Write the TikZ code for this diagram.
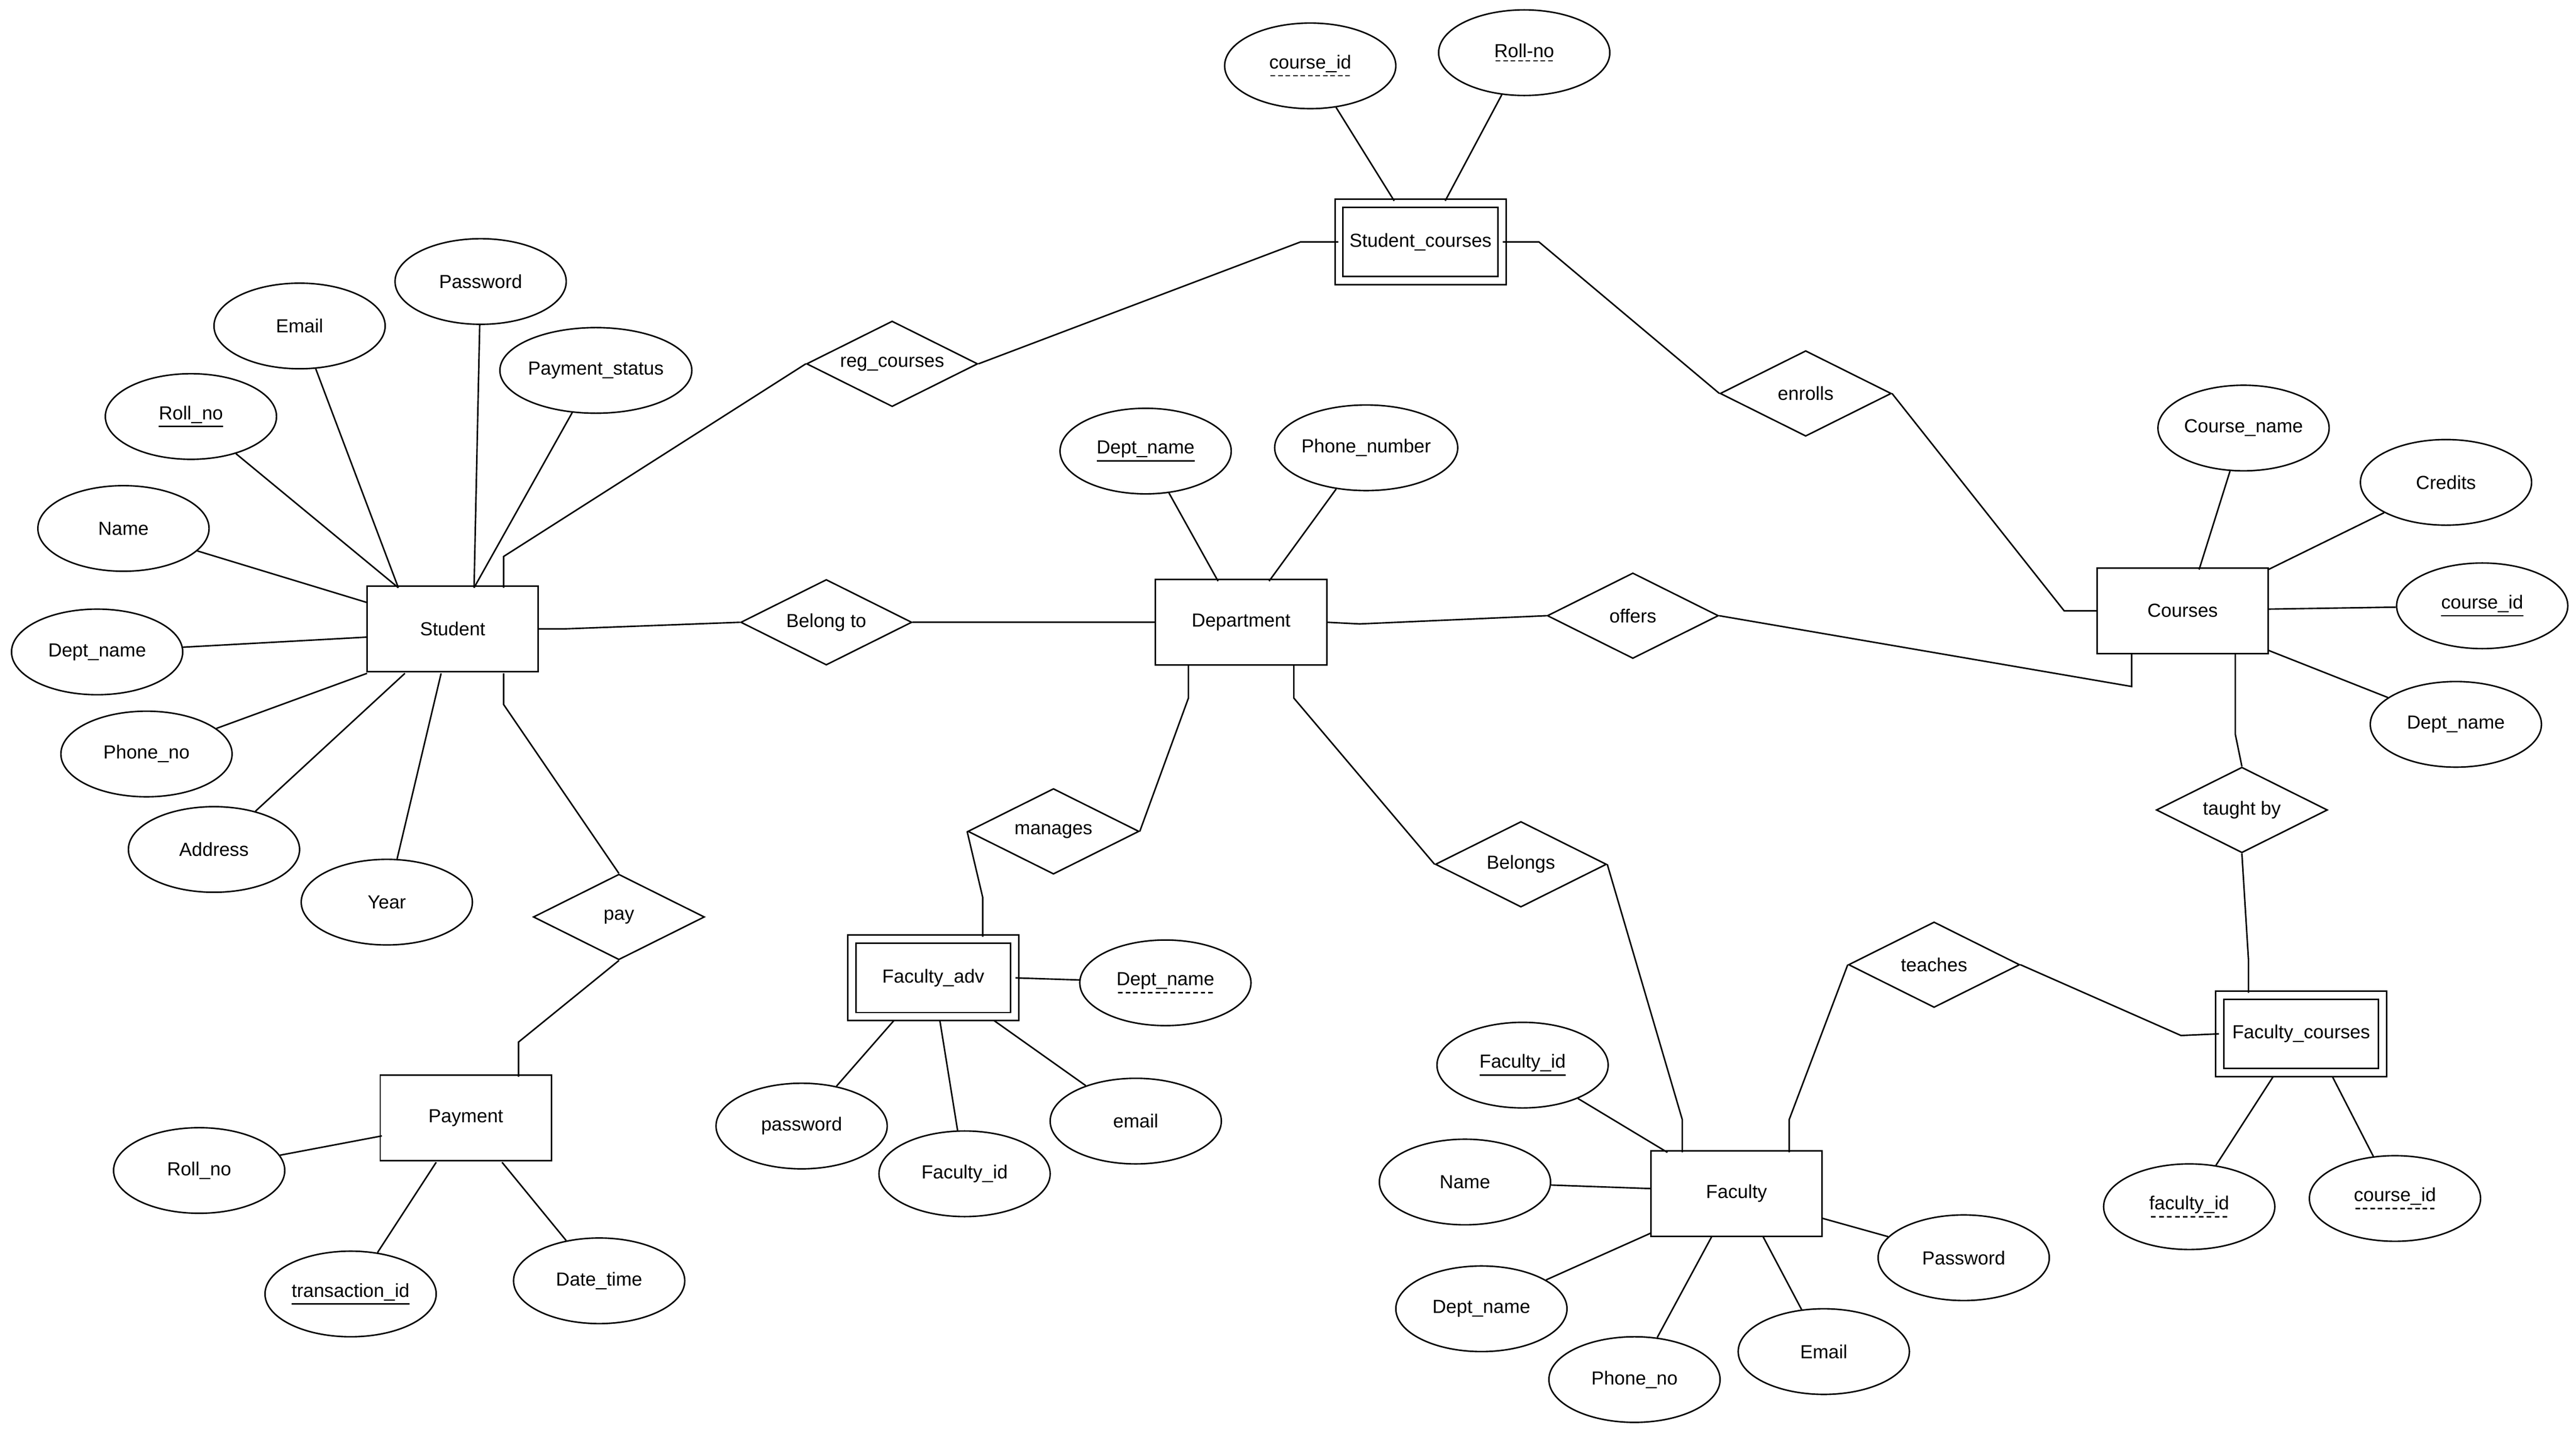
\documentclass[tikz,border=0pt]{standalone}
\usepackage{fontspec}
\setmainfont{Liberation Sans}
\usetikzlibrary{shapes.geometric}
\newcommand\myul[1]{\setbox0=\hbox{#1}\vtop{\copy0\kern1.5pt\hrule height0.8pt width\wd0}}
\newcommand\mydul[1]{\setbox0=\hbox{#1}\vtop{\copy0\nointerlineskip\kern1.5pt\hbox to\wd0{\xleaders\hbox to 4.5pt{\hss\vrule height0.8pt depth0pt width2.8pt\hss}\hfill}}}
\begin{document}
\begin{tikzpicture}[x=1pt,y=-1pt,line width=0.9pt,
  every node/.style={font=\fontsize{11.5}{13}\selectfont},
  attr/.style={draw,ellipse,minimum width=104pt,minimum height=52pt,inner sep=0},
  ent/.style={draw,rectangle,minimum width=104pt,minimum height=52pt,inner sep=0},
  went/.style={draw,double,double distance=4pt,line width=0.9pt,rectangle,minimum width=99pt,minimum height=47pt,inner sep=0},
  rel/.style={draw,diamond,aspect=2,minimum width=104pt,minimum height=52pt,inner sep=0}]
\useasboundingbox (0,0) rectangle (1565,871);
% entities
\node[ent] (st) at (275,382) {Student};
\node[went] (sc) at (863,147) {Student\_courses};
\node[ent] (co) at (1326,371) {Courses};
\node[ent] (de) at (754,378) {Department};
\node[went] (fa) at (567,594) {Faculty\_adv};
\node[ent] (fc) at (1055,725) {Faculty};
\node[went] (fcs) at (1398,628) {Faculty\_courses};
\node[ent] (pa) at (283,679) {Payment};
% relations
\node[rel] (rc) at (542,221) {reg\_courses};
\node[rel] (en) at (1097,239) {enrolls};
\node[rel] (bt) at (502,378) {Belong to};
\node[rel] (of) at (992,374) {offers};
\node[rel] (ma) at (640,505) {manages};
\node[rel] (be) at (924,525) {Belongs};
\node[rel] (te) at (1175,586) {teaches};
\node[rel] (tb) at (1362,492) {taught by};
\node[rel] (py) at (376,557) {pay};
% student attrs
\node[attr] (s1) at (292,171) {Password};
\node[attr] (s2) at (182,198) {Email};
\node[attr] (s3) at (362,225) {Payment\_status};
\node[attr] (s4) at (116,253) {\myul{Roll\_no}};
\node[attr] (s5) at (75,321) {Name};
\node[attr] (s6) at (59,396) {Dept\_name};
\node[attr] (s7) at (89,458) {Phone\_no};
\node[attr] (s8) at (130,516) {Address};
\node[attr] (s9) at (235,548) {Year};
\draw (s1) -- (288,357);
\draw (s2) -- (242,357);
\draw (s3) -- (288,357);
\draw (s4) -- (242,357);
\draw (s5) -- (223,366);
\draw (s6) -- (223,387);
\draw (s7) -- (223,409);
\draw (s8) -- (246,409);
\draw (s9) -- (268,409);
% student courses attrs
\node[attr] (c1) at (796,40) {\mydul{course\_id}};
\node[attr] (c2) at (926,32) {\mydul{Roll-no}};
\draw (c1) -- (847,122);
\draw (c2) -- (878,122);
% courses attrs
\node[attr] (k1) at (1363,260) {Course\_name};
\node[attr] (k2) at (1486,293) {Credits};
\node[attr] (k3) at (1508,368) {\myul{course\_id}};
\node[attr] (k4) at (1492,440) {Dept\_name};
\draw (k1) -- (1336,346);
\draw (k2) -- (1378,346);
\draw (k3) -- (1378,370);
\draw (k4) -- (1378,395);
% dept attrs
\node[attr] (d1) at (696,274) {\myul{Dept\_name}};
\node[attr] (d2) at (830,272) {Phone\_number};
\draw (d1) -- (740,353);
\draw (d2) -- (771,353);
% faculty adv attrs
\node[attr] (a1) at (708,597) {\mydul{Dept\_name}};
\node[attr] (a2) at (487,684) {password};
\node[attr] (a3) at (586,713) {Faculty\_id};
\node[attr] (a4) at (690,681) {email};
\draw (a1) -- (fa.east);
\draw (a2) -- (543,620);
\draw (a3) -- (571,620);
\draw (a4) -- (604,620);
% faculty attrs
\node[attr] (f1) at (925,647) {\myul{Faculty\_id}};
\node[attr] (f2) at (890,718) {Name};
\node[attr] (f3) at (900,795) {Dept\_name};
\node[attr] (f4) at (993,838) {Phone\_no};
\node[attr] (f5) at (1108,821) {Email};
\node[attr] (f6) at (1193,764) {Password};
\draw (f1) -- (1013,700);
\draw (f2) -- (1003,722);
\draw (f3) -- (1003,749);
\draw (f4) -- (1040,751);
\draw (f5) -- (1071,751);
\draw (f6) -- (1107,740);
% faculty courses attrs
\node[attr] (g1) at (1330,733) {\mydul{faculty\_id}};
\node[attr] (g2) at (1455,728) {\mydul{course\_id}};
\draw (g1) -- (1381,654);
\draw (g2) -- (1417,654);
% payment attrs
\node[attr] (p1) at (121,711) {Roll\_no};
\node[attr] (p2) at (213,786) {\myul{transaction\_id}};
\node[attr] (p3) at (364,778) {Date\_time};
\draw (p1) -- (232,690);
\draw (p2) -- (265,706);
\draw (p3) -- (305,706);
% relationship connectors
\draw (306,357) -- (306,338) -- (rc.west);
\draw (rc.east) -- (790,147) -- (sc.west);
\draw (sc.east) -- (935,147) -- (en.west);
\draw (en.east) -- (1254,371) -- (co.west);
\draw (st.east) -- (343,382) -- (bt.west);
\draw (bt.east) -- (de.west);
\draw (de.east) -- (826,379) -- (of.west);
\draw (of.east) -- (1295,417) -- (1295,397);
\draw (722,404) -- (722,424) -- (ma.east);
\draw (ma.west) -- (597,545) -- (597,569);
\draw (786,404) -- (786,424) -- (be.west);
\draw (be.east) -- (1022,680) -- (1022,700);
\draw (te.west) -- (1087,680) -- (1087,700);
\draw (te.east) -- (1325,629) -- (fcs.west);
\draw (tb.north) -- (1358,446) -- (1358,397);
\draw (tb.south) -- (1366,583) -- (1366,603);
\draw (py.north) -- (306,428) -- (306,409);
\draw (py.south) -- (315,633) -- (315,654);
\end{tikzpicture}
\end{document}
